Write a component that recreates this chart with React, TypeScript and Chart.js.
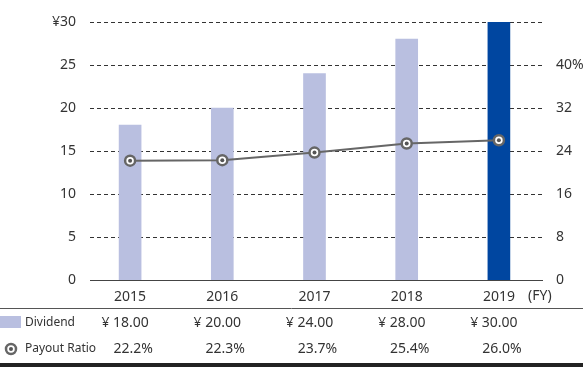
import React, { useEffect, useRef } from 'react';
import { Chart, registerables } from 'chart.js';

Chart.register(...registerables);

const years = ['2015', '2016', '2017', '2018', '2019'];
const dividend = [18, 20, 24, 28, 30];
const payoutRatio = [22.2, 22.3, 23.7, 25.4, 26.0];
const barColors = ['#b9bfe0', '#b9bfe0', '#b9bfe0', '#b9bfe0', '#0046a0'];
const legendLabels = ['Dividend', 'Payout Ratio'];
const fyLabel = '(FY)';

const FONT = '"Noto Sans", sans-serif';
const TEXT = '#333';

const gridPlugin = {
  id: 'dashGrid',
  beforeDatasetsDraw(chart: any) {
    const { ctx, chartArea, scales } = chart;
    const y = scales.y;
    const l = chartArea.left + 6;
    const r = chartArea.right - 2;
    ctx.save();
    ctx.strokeStyle = '#333';
    ctx.lineWidth = 1;
    y.ticks.forEach((t: any) => {
      const py = Math.round(y.getPixelForValue(t.value)) + 0.5;
      if (t.value === 0) return;
      ctx.setLineDash([4, 3]);
      ctx.beginPath();
      ctx.moveTo(l, py);
      ctx.lineTo(r, py);
      ctx.stroke();
    });
    ctx.restore();
  },
  afterDatasetsDraw(chart: any) {
    const { ctx, chartArea, scales } = chart;
    const y = scales.y;
    const py = Math.round(y.getPixelForValue(0)) + 0.5;
    ctx.save();
    ctx.strokeStyle = '#444';
    ctx.lineWidth = 1;
    ctx.beginPath();
    ctx.moveTo(chartArea.left + 6, py);
    ctx.lineTo(chartArea.right - 2, py);
    ctx.stroke();
    ctx.restore();
  },
};

const tablePlugin = {
  id: 'dataTable',
  afterDraw(chart: any) {
    const { ctx, scales, width } = chart;
    const x = scales.x;
    ctx.save();
    // FY label
    ctx.fillStyle = TEXT;
    ctx.font = `14px ${FONT}`;
    ctx.textAlign = 'left';
    ctx.textBaseline = 'middle';
    ctx.fillText(fyLabel, 528, 296);

    // table lines
    ctx.strokeStyle = '#555';
    ctx.lineWidth = 1;
    ctx.beginPath();
    ctx.moveTo(0, 308.5);
    ctx.lineTo(width, 308.5);
    ctx.stroke();
    ctx.fillStyle = '#222';
    ctx.fillRect(0, 363, width, 4);

    // legend icons
    const rowY1 = 323;
    const rowY2 = 349;
    ctx.fillStyle = barColors[0];
    ctx.fillRect(0, 316, 21, 12);
    ctx.beginPath();
    ctx.arc(11, rowY2, 5, 0, Math.PI * 2);
    ctx.fillStyle = '#fff';
    ctx.fill();
    ctx.lineWidth = 2.5;
    ctx.strokeStyle = '#666';
    ctx.stroke();
    ctx.beginPath();
    ctx.arc(11, rowY2, 2, 0, Math.PI * 2);
    ctx.fillStyle = '#555';
    ctx.fill();

    ctx.fillStyle = TEXT;
    ctx.font = `12px ${FONT}`;
    ctx.textAlign = 'left';
    ctx.fillText(legendLabels[0], 25, rowY1);
    ctx.fillText(legendLabels[1], 25, rowY2);

    ctx.font = `14px ${FONT}`;
    ctx.textAlign = 'center';
    years.forEach((_, i) => {
      const cx = x.getPixelForValue(i);
      ctx.fillText('¥ ' + dividend[i].toFixed(2), cx - 5, rowY1);
      ctx.fillText(payoutRatio[i].toFixed(1) + '%', cx + 3, rowY2);
    });
    ctx.restore();
  },
};

export default function App() {
  const ref = useRef<HTMLCanvasElement>(null);

  useEffect(() => {
    if (!ref.current) return;
    const chart = new Chart(ref.current, {
      type: 'bar',
      data: {
        labels: years,
        datasets: [
          {
            type: 'line',
            data: payoutRatio,
            yAxisID: 'y1',
            showLine: false,
            pointRadius: 2,
            pointBorderWidth: 0,
            pointBackgroundColor: '#555',
            order: 0,
          } as any,
          {
            type: 'line',
            data: payoutRatio,
            yAxisID: 'y1',
            borderColor: '#666',
            borderWidth: 2,
            pointRadius: 5,
            pointBorderWidth: 2.5,
            pointBorderColor: '#666',
            pointBackgroundColor: '#fff',
            order: 1,
          } as any,
          {
            type: 'bar',
            data: dividend,
            yAxisID: 'y',
            backgroundColor: barColors,
            barThickness: 22,
            order: 2,
          },
        ],
      },
      options: {
        responsive: false,
        animation: false,
        layout: { padding: { top: 22, left: 0, right: 0, bottom: 0 } },
        plugins: { legend: { display: false }, tooltip: { enabled: false } },
        scales: {
          x: {
            grid: { display: false, drawTicks: false },
            border: { display: false },
            ticks: { color: TEXT, font: { family: FONT, size: 14 }, padding: 9 },
            afterFit: (s: any) => { s.height = 87; },
          },
          y: {
            position: 'left',
            min: 0,
            max: 30,
            grid: { display: false, drawTicks: false },
            border: { display: false },
            ticks: {
              stepSize: 5,
              color: TEXT,
              font: { family: FONT, size: 14 },
              padding: 8,
              callback: (v: any) => (v === 30 ? '¥' + v : String(v)),
            },
            afterFit: (s: any) => { s.width = 84; },
          },
          y1: {
            position: 'right',
            min: 0,
            max: 48,
            grid: { display: false, drawTicks: false },
            border: { display: false },
            ticks: {
              stepSize: 8,
              color: TEXT,
              font: { family: FONT, size: 14 },
              padding: 11,
              callback: (v: any) => (v === 48 ? '' : v === 40 ? v + '%' : String(v)),
            },
            afterFit: (s: any) => { s.width = 38; },
          },
        },
      },
      plugins: [gridPlugin, tablePlugin],
    });
    return () => chart.destroy();
  }, []);

  return (
    <div style={{ position: 'fixed', left: 0, top: 0, width: 583, height: 367, background: '#fff' }}>
      <canvas ref={ref} width={583} height={367} />
    </div>
  );
}
